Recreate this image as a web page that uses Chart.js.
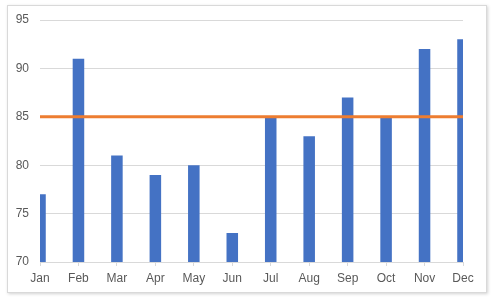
<!DOCTYPE html>
<html>
<head>
<meta charset="utf-8">
<script src="https://cdn.jsdelivr.net/npm/chart.js@4"></script>
<style>
    html, body { margin: 0; padding: 0; background: #fff; }
    body { width: 493px; height: 302px; position: relative; overflow: hidden; }
    #box {
        position: absolute; left: 7px; top: 5px; width: 478px; height: 286px;
        border: 1px solid #d9d9d9; background: #fff;
        box-shadow: 1px 1px 3px rgba(0,0,0,0.18);
    }
    #chart { display: block; }
</style>
</head>
<body>
<div id="box"><canvas id="chart" width="478" height="286"></canvas></div>
<script>
const months = ["Jan", "Feb", "Mar", "Apr", "May", "Jun", "Jul", "Aug", "Sep", "Oct", "Nov", "Dec"];
const values = [77, 91, 81, 79, 80, 73, 85, 83, 87, 85, 92, 93];
const target = [85, 85, 85, 85, 85, 85, 85, 85, 85, 85, 85, 85];
const yTicks = [70, 75, 80, 85, 90, 95];

const labelFont = { family: "'Liberation Sans', 'DejaVu Sans', sans-serif", size: 12 };

let config = {
    type: 'bar',
    data: {
        labels: months,
        datasets: [
            {
                type: 'line',
                data: target,
                borderColor: '#ED7D31',
                borderWidth: 3,
                pointRadius: 0,
                order: 0
            },
            {
                type: 'bar',
                data: values,
                backgroundColor: '#4472C4',
                categoryPercentage: 1,
                barPercentage: 0.3,
                order: 1
            }
        ]
    },
    options: {
        responsive: false,
        animation: false,
        layout: {
            autoPadding: false,
            padding: { left: 0, right: 23, top: 14, bottom: 0 }
        },
        plugins: {
            legend: { display: false },
            tooltip: { enabled: false }
        },
        scales: {
            x: {
                offset: false,
                grid: {
                    offset: false,
                    drawOnChartArea: false,
                    drawTicks: true,
                    tickLength: 4,
                    color: '#d9d9d9'
                },
                border: { color: '#d9d9d9' },
                ticks: { color: '#595959', font: labelFont, padding: 5, maxRotation: 0 },
                afterFit: (scale) => {
                    scale.height = 30;
                    scale.paddingLeft = 0;
                    scale.paddingRight = 0;
                }
            },
            y: {
                min: 70,
                max: 95,
                afterBuildTicks: (scale) => { scale.ticks = yTicks.map(v => ({ value: v })); },
                grid: { color: '#d9d9d9', drawTicks: false },
                border: { display: false },
                ticks: { color: '#595959', font: labelFont, padding: 11 },
                afterFit: (scale) => {
                    scale.width = 32;
                    scale.paddingTop = 0;
                    scale.paddingBottom = 0;
                }
            }
        }
    }
};

new Chart(document.getElementById('chart'), config);
</script>
</body>
</html>
